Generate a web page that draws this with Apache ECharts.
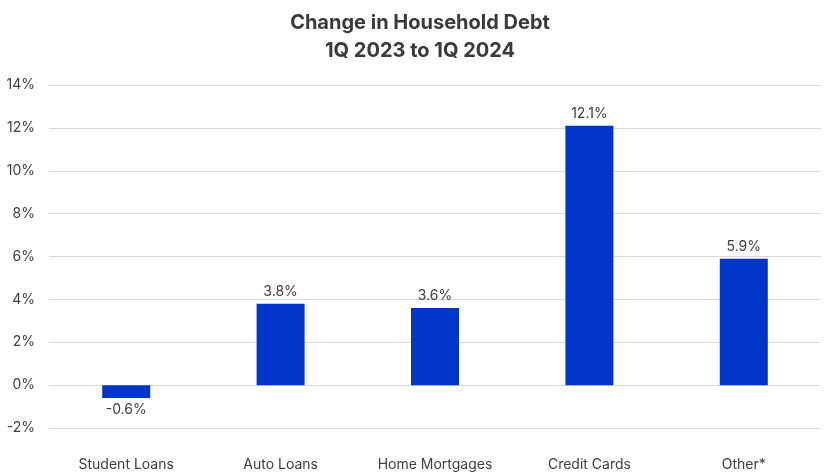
<!DOCTYPE html>
<html>
<head>
<meta charset="utf-8">
<script src="https://cdn.jsdelivr.net/npm/echarts@6/dist/echarts.min.js"></script>
<style>html,body{margin:0;padding:0;background:#fff}#chart{width:840px;height:472px}</style>
</head>
<body>
<div id="chart"></div>
<script>
const categories = ['Student Loans', 'Auto Loans', 'Home Mortgages', 'Credit Cards', 'Other*'];
const values = [-0.6, 3.8, 3.6, 12.1, 5.9];

const chart = echarts.init(document.getElementById('chart'));

chart.setOption({
  title: {
    text: 'Change in Household Debt\n1Q 2023 to 1Q 2024',
    left: 'center',
    top: 4,
    textStyle: { fontFamily: 'Inter', fontSize: 20, fontWeight: 'bold', color: '#3a3a3a', lineHeight: 28 }
  },
  grid: { left: 49, right: 19, top: 85, bottom: 29 },
  xAxis: {
    type: 'category',
    data: categories,
    axisLine: { show: false },
    axisTick: { show: false },
    axisLabel: { fontFamily: 'Inter', fontSize: 14, color: '#404040', margin: 30 }
  },
  yAxis: {
    type: 'value',
    min: -2,
    max: 14,
    interval: 2,
    axisLabel: { formatter: '{value}%', fontFamily: 'Inter', fontSize: 14, color: '#404040', margin: 14 },
    splitLine: { lineStyle: { color: '#d9d9d9' } }
  },
  series: [{
    type: 'bar',
    data: values,
    barWidth: 48,
    itemStyle: { color: '#0036c8' },
    label: {
      show: true,
      position: 'top',
      formatter: p => p.value + '%',
      fontFamily: 'Inter',
      fontSize: 14,
      color: '#404040'
    },
    labelLayout: p => p.value < 0 ? {} : {}
  }]
});

// negative bar label below
chart.setOption({
  series: [{
    data: values.map(v => v < 0 ? { value: v, label: { position: 'bottom' } } : v)
  }]
});
</script>
</body>
</html>
